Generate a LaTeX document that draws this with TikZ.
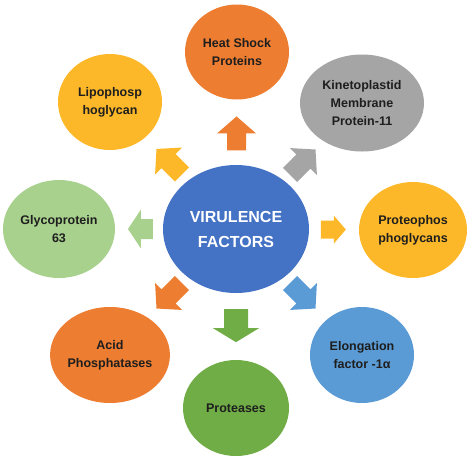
\documentclass[tikz,border=0pt]{standalone}
\usepackage{fontspec}
\setmainfont{Liberation Sans}
\usetikzlibrary{shapes.geometric,calc}
\definecolor{cblue}{HTML}{4472C4}
\definecolor{corange}{HTML}{ED7D31}
\definecolor{cgray}{HTML}{A5A5A5}
\definecolor{cgold}{HTML}{FDB829}
\definecolor{clblue}{HTML}{5B9BD5}
\definecolor{cgreen}{HTML}{70AD47}
\definecolor{clgreen}{HTML}{A9D18E}
\definecolor{txt}{HTML}{1E1E1E}
\newcommand\blockarrow[7]{%
  \fill[#1,shift={(#2)},rotate=#3] (-#4/2,-#5/2) -- (#4/2-#7,-#5/2) -- (#4/2-#7,-#6/2) -- (#4/2,0) -- (#4/2-#7,#6/2) -- (#4/2-#7,#5/2) -- (-#4/2,#5/2) -- cycle;}
\tikzset{
  factor/.style={ellipse, inner sep=0pt, draw=none, font=\bfseries\fontsize{12.5}{18}\selectfont, align=center, text=txt},
}
\begin{document}
\begin{tikzpicture}[x=1pt,y=-1pt]
\useasboundingbox (0,0) rectangle (474,459);
\node[ellipse, inner sep=0pt, fill=cblue, minimum width=146, minimum height=128, text=white, align=center, font=\bfseries\fontsize{16}{25}\selectfont] (vf) at (236,229) {VIRULENCE\\FACTORS};
\node[factor, fill=corange, minimum width=104, minimum height=95] (hsp) at (237,52) {Heat Shock\\Proteins};
\node[factor, fill=cgray, minimum width=124, minimum height=97] (kmp) at (362,103) {Kinetoplastid\\Membrane\\Protein-11};
\node[factor, fill=cgold, minimum width=108, minimum height=96] (ppg) at (413,230) {Proteophos\\phoglycans};
\node[factor, fill=clblue, minimum width=104, minimum height=96] (ef) at (362,355) {Elongation\\factor -1α};
\node[factor, fill=cgreen, minimum width=106, minimum height=96] (pro) at (236,408) {Proteases};
\node[factor, fill=corange, minimum width=116, minimum height=96] (ap) at (110,355) {Acid\\Phosphatases};
\node[factor, fill=clgreen, minimum width=112, minimum height=98] (gp) at (59,229) {Glycoprotein\\63};
\node[factor, fill=cgold, minimum width=104, minimum height=96] (lpg) at (110,102) {Lipophosp\\hoglycan};
\blockarrow{corange}{$(vf)!0.54!(hsp)$}{90}{34}{19}{39}{17}
\blockarrow{cgray}{$(vf)!0.53!(kmp)$}{45}{36}{20}{38}{17}
\blockarrow{cgold}{$(vf)!0.55!(ppg)$}{0}{25}{18}{28}{12}
\blockarrow{clblue}{$(vf)!0.53!(ef)$}{-45}{36}{20}{38}{17}
\blockarrow{cgreen}{$(vf)!0.54!(pro)$}{-90}{33}{24}{46}{14}
\blockarrow{corange}{$(vf)!0.53!(ap)$}{-135}{36}{20}{38}{17}
\blockarrow{clgreen}{$(vf)!0.54!(gp)$}{180}{25}{20}{39}{13}
\blockarrow{cgold}{$(vf)!0.53!(lpg)$}{135}{36}{20}{38}{17}
\end{tikzpicture}
\end{document}
